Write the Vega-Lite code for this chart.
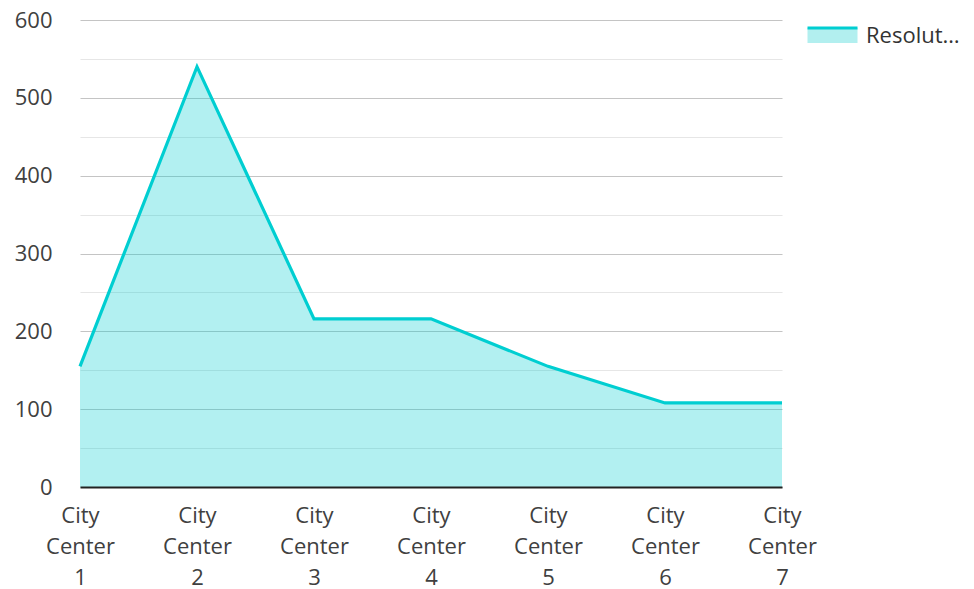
{
  "$schema": "https://vega.github.io/schema/vega-lite/v6.json",
  "autosize": "none",
  "width": 702,
  "height": 467,
  "padding": {"left": 80, "top": 20, "right": 192, "bottom": 102},
  "config": {
    "font": "Open Sans",
    "view": {"stroke": null},
    "axis": {"labelColor": "#404040", "labelFont": "Open Sans", "title": null}
  },
  "data": {
    "values": [
      {"center": "City Center 1", "value": 155},
      {"center": "City Center 2", "value": 540},
      {"center": "City Center 3", "value": 216},
      {"center": "City Center 4", "value": 216},
      {"center": "City Center 5", "value": 155},
      {"center": "City Center 6", "value": 108},
      {"center": "City Center 7", "value": 108}
    ]
  },
  "encoding": {
    "x": {
      "field": "center",
      "type": "ordinal",
      "sort": null,
      "scale": {"type": "point", "padding": 0},
      "axis": {
        "labelExpr": "split(datum.label, ' ')",
        "labelAngle": 0,
        "labelFontSize": 22,
        "labelLineHeight": 31,
        "labelPadding": 18,
        "labelBaseline": "top",
        "domain": true,
        "domainColor": "#222222",
        "domainWidth": 2,
        "ticks": false,
        "grid": false,
        "zindex": 1
      }
    },
    "y": {
      "field": "value",
      "type": "quantitative",
      "scale": {"domain": [0, 600], "nice": false},
      "axis": {
        "values": [0, 50, 100, 150, 200, 250, 300, 350, 400, 450, 500, 550, 600],
        "labelExpr": "datum.value % 100 === 0 ? datum.label : ''",
        "labelFontSize": 22,
        "labelPadding": 28,
        "domain": false,
        "ticks": false,
        "grid": true,
        "gridColor": {"condition": {"test": "datum.value % 100 === 0", "value": "#c4c4c4"}, "value": "#e6e6e6"},
        "gridWidth": 1.2
      }
    }
  },
  "layer": [
    {"mark": {"type": "area", "color": "#00CED1", "fillOpacity": 0.3}},
    {
      "mark": {"type": "line", "strokeWidth": 3.2},
      "encoding": {
        "color": {
          "datum": "Resolution Time",
          "scale": {"range": ["#00CED1"]},
          "legend": {
            "title": null,
            "orient": "none",
            "legendX": 726,
            "legendY": -11,
            "labelFontSize": 22,
            "labelColor": "#333333",
            "labelFont": "Open Sans",
            "labelLimit": 96,
            "labelOffset": 7,
            "symbolSize": 2500,
            "symbolType": "M-1,-0.3H1V0.3H-1Z",
            "symbolFillColor": "#B2EFEF",
            "symbolStrokeColor": "#00CED1",
            "symbolStrokeWidth": 3,
            "symbolDash": [50, 200],
            "symbolOpacity": 1,
            "encode": {
              "symbols": {
                "update": {
                  "fill": {"value": "#B2EFEF"},
                  "fillOpacity": {"value": 1},
                  "opacity": {"value": 1},
                  "stroke": {"value": "#00CED1"},
                  "strokeWidth": {"value": 3},
                  "strokeDash": {"value": [50, 200]},
                  "shape": {"value": "M-1,-0.3H1V0.3H-1Z"},
                  "size": {"value": 2500}
                }
              }
            }
          }
        }
      }
    }
  ]
}
